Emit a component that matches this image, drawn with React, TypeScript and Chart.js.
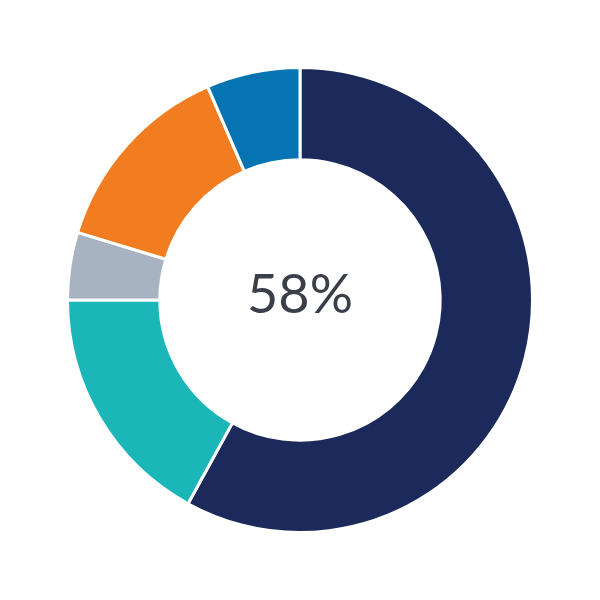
import {useEffect, useRef} from "react";
import {Chart} from "chart.js/auto";

const segments = ["Navy", "Teal", "Gray", "Orange", "Blue"]
const shares = [58, 17, 4.7, 13.8, 6.5]
const colors = ["#1b2a5b", "#1bb6b7", "#a8b3c2", "#f27d21", "#0673b3"]
const centerLabel = "58%"

let chart: Chart

export default () => {
  const donut = useRef<HTMLCanvasElement>(null)

  useEffect(() => {
    chart = new Chart(donut.current!, {
      type: "doughnut",
      data: {
        labels: segments,
        datasets: [{
          data: shares,
          backgroundColor: colors,
          borderColor: "#ffffff",
          borderWidth: 3,
        }]
      },
      options: {
        responsive: false,
        animation: false,
        cutout: "60.3%",
        layout: {padding: 66},
        plugins: {
          legend: {display: false},
          tooltip: {enabled: false},
        }
      }
    })
    return () => {
      chart.destroy();
    }
  }, [])

  return (
    <div style={{position: "fixed", left: 0, top: 0, width: 600, height: 600, background: "#fff"}}>
      <canvas ref={donut} width={600} height={600}></canvas>
      <div style={{
        position: "absolute", left: 0, top: 0, width: 600, height: 600,
        display: "flex", alignItems: "center", justifyContent: "center",
        fontFamily: "Lato, sans-serif", fontSize: 54, color: "#3a3f4a",
        transform: "translateY(-8px)",
        pointerEvents: "none",
      }}>{centerLabel}</div>
    </div>
  )
}
